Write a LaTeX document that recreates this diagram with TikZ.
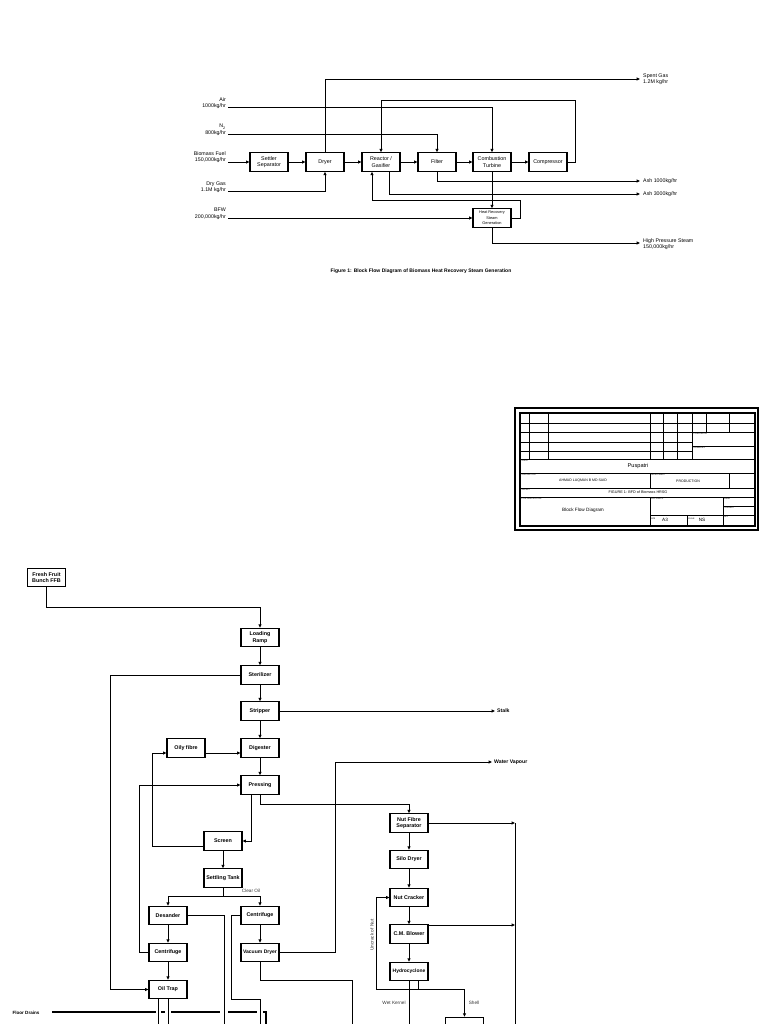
\documentclass[tikz,border=0pt]{standalone}
\usepackage{fontspec}
\setmainfont{Liberation Sans}
\usetikzlibrary{arrows.meta,calc}
\tikzset{
  unit/.style={draw=black, line width=0.95pt, minimum width=1.14cm, minimum height=0.55cm, inner sep=0pt, align=center, font=\fontsize{4.6}{5.3}\selectfont},
  stage/.style={unit, font=\bfseries\fontsize{4.6}{5.4}\selectfont},
  stream/.style={line width=0.8pt},
  feed/.style={stream, -{Triangle[length=2.9pt,width=2.5pt]}},
  drainline/.style={line width=1.5pt},
  tagleft/.style={font=\fontsize{4.5}{5.6}\selectfont, inner sep=0pt, align=right, anchor=east},
  tagright/.style={font=\fontsize{4.5}{5.6}\selectfont, inner sep=0pt, align=left, anchor=west},
  boldtag/.style={font=\bfseries\fontsize{4.4}{5.2}\selectfont, inner sep=0pt, anchor=west},
  note/.style={font=\fontsize{4}{4.8}\selectfont, inner sep=0pt, text=black!80},
  frame/.style={line width=0.9pt},
  rule/.style={line width=0.7pt},
  fieldname/.style={font=\fontsize{1.8}{2.2}\selectfont, inner sep=0.4pt, anchor=north west},
  fieldtext/.style={font=\fontsize{3}{3.6}\selectfont, inner sep=0pt},
}
\begin{document}
\begin{tikzpicture}[x=0.03cm, y=-0.03cm]
\useasboundingbox (0,0) rectangle (768,1024);
\clip (0,0) rectangle (768,1024);
\node[unit] (settler) at (269,162) {Settler\\Separator};
\node[unit] (dryer) at (325,162) {Dryer};
\node[unit] (reactor) at (381,162) {Reactor /\\Gasifier};
\node[unit] (filter) at (437,162) {Filter};
\node[unit] (turbine) at (492,162) {Combustion\\Turbine};
\node[unit] (compressor) at (548,162) {Compressor};
\node[unit, font=\fontsize{3.3}{4.6}\selectfont] (hrsg) at (492,218) {Heat Recovery\\Steam\\Generation};
\node[tagleft] (airtag) at (226,103) {Air\\1000kg/hr};
\node[tagleft] (nitrotag) at (226,130) {N\textsubscript{2}\\800kg/hr};
\node[tagleft] (fueltag) at (226,157) {Biomass Fuel\\150,000kg/hr};
\node[tagleft] (drygastag) at (226,187) {Dry Gas\\1.1M kg/hr};
\node[tagleft] (bfwtag) at (226,214) {BFW\\200,000kg/hr};
\coordinate (air) at (228,107);
\coordinate (nitro) at (228,134);
\coordinate (fuel) at (228,162);
\coordinate (drygas) at (228,191);
\coordinate (bfw) at (228,218);
\coordinate (spent) at (640,79);
\coordinate (ash1) at (640,181);
\coordinate (ash3) at (640,194);
\coordinate (hpsteam) at (640,243);
\node[tagright] (spenttag) at (643,79) {Spent Gas\\1.2M kg/hr};
\node[tagright] (ash1tag) at (643,181) {Ash 1000kg/hr};
\node[tagright] (ash3tag) at (643,194) {Ash 3000kg/hr};
\node[tagright] (steamtag) at (643,244) {High Pressure Steam\\150,000kg/hr};
\draw[feed] (air) -| (turbine.north);
\draw[feed] (nitro) -| (filter.north);
\draw[feed] (fuel) -- (settler);
\draw[feed] (settler) -- (dryer);
\draw[feed] (dryer) -- (reactor);
\draw[feed] (reactor) -- (filter);
\draw[feed] (filter) -- (turbine);
\draw[feed] (turbine) -- (compressor);
\draw[feed] (drygas) -| (dryer.south);
\draw[feed] (bfw) -- (hrsg);
\draw[feed] (dryer.north) |- (spent);
\draw[feed] (compressor.east) -| (575,100) -| (reactor.north);
\draw[feed] (filter.south) |- (ash1);
\draw[feed] ($(reactor.south)+(8,0)$) |- (ash3);
\draw[feed] (hrsg.east) -| (520,200) -| ($(reactor.south)+(-9,0)$);
\draw[feed] (turbine) -- (hrsg);
\draw[feed] (hrsg.south) |- (hpsteam);
\node[font=\bfseries\fontsize{4.3}{5}\selectfont] (caption) at (421,271) {Figure 1: Block Flow Diagram of Biomass Heat Recovery Steam Generation};
\draw[frame] (515,408) rectangle (758,530);
\draw[frame] (520,413) rectangle (755,526);
\foreach \y in {423,432,442,451} \draw[rule] (520,\y) -- (692,\y);
\foreach \x in {529,548,650,663,677,692} \draw[rule] (\x,413) -- (\x,459);
\foreach \y in {423,432,446} \draw[rule] (692,\y) -- (755,\y);
\foreach \x in {706,729} \draw[rule] (\x,413) -- (\x,432);
\foreach \y in {459,473,488,497} \draw[rule] (520,\y) -- (755,\y);
\draw[rule] (650,473) -- (650,488);
\draw[rule] (729,473) -- (729,488);
\draw[rule] (650,497) -- (650,526);
\draw[rule] (723,497) -- (723,526);
\draw[rule] (650,515) -- (723,515);
\draw[rule] (687,515) -- (687,526);
\draw[rule] (723,506) -- (755,506);
\draw[rule] (723,515) -- (755,515);
\node[fieldname] at (693,432) {CHECKED BY};
\node[fieldname] at (693,446) {DRAWN BY};
\node[fieldname] at (520,459) {CLIENT};
\node[fieldname] at (520,473) {CONTRACTOR};
\node[fieldname] at (650,473) {DEPARTMENT};
\node[fieldname] at (520,488) {PROJECT};
\node[fieldname] at (520,497) {TITLE DESCRIPTION};
\node[fieldname] at (650,497) {DOC DWG N°};
\node[fieldname] at (650,517) {SIZE};
\node[fieldname] at (687,517) {SCALE};
\node[fieldname] at (723,497) {SHEET};
\node[fieldname] at (723,506) {CURRENT};
\node[fieldname] at (723,515) {REV};
\node[fieldtext, font=\fontsize{4.8}{5.6}\selectfont] at (638,466) {Puspatri};
\node[fieldtext] at (583,481) {AHMAD LUQMAN B MD SAID};
\node[fieldtext] at (688,481) {PRODUCTION};
\node[fieldtext, font=\fontsize{3.2}{3.8}\selectfont] at (638,492.5) {FIGURE 1: BFD of Biomass HRSG};
\node[fieldtext, font=\fontsize{4}{4.8}\selectfont] at (583,510) {Block Flow Diagram};
\node[fieldtext, font=\fontsize{4}{4.8}\selectfont] at (665,520) {A3};
\node[fieldtext, font=\fontsize{4}{4.8}\selectfont] at (702,520) {NS};
\node[stage] (ffb) at (46.5,577.5) {Fresh Fruit\\Bunch FFB};
\node[stage] (ramp) at (260,637.5) {Loading\\Ramp};
\node[stage] (sterilizer) at (260,675) {Sterilizer};
\node[stage] (stripper) at (260,711) {Stripper};
\node[stage] (oily) at (186,748) {Oily fibre};
\node[stage] (digester) at (260,748) {Digester};
\node[stage] (pressing) at (260,785) {Pressing};
\node[stage] (screen) at (223,841) {Screen};
\node[stage] (settling) at (223,878) {Settling Tank};
\node[stage] (desander) at (168,915.5) {Desander};
\node[stage] (centleft) at (168,952.5) {Centrifuge};
\node[stage] (oiltrap) at (168,989.5) {Oil Trap};
\node[stage] (centright) at (260,915.5) {Centrifuge};
\node[stage, font=\bfseries\fontsize{4.3}{5.2}\selectfont] (vacdryer) at (260,952.5) {Vacuum Dryer};
\node[stage] (nfs) at (409,823) {Nut Fibre\\Separator};
\node[stage] (silo) at (409,859.5) {Silo Dryer};
\node[stage] (cracker) at (409,897.5) {Nut Cracker};
\node[stage] (blower) at (409,934) {C.M. Blower};
\node[stage, font=\bfseries\fontsize{4.2}{5.2}\selectfont] (hydro) at (409,971.5) {Hydrocyclone};
\node[stage] (shellbox) at (464.5,1026.5) {};
\coordinate (stalk) at (495,711);
\coordinate (vapour) at (492,762);
\coordinate (collect) at (515,823);
\coordinate (drain) at (52,1012);
\node[boldtag] (stalktag) at (497,711) {Stalk};
\node[boldtag] (vapourtag) at (494,762) {Water Vapour};
\node[boldtag, anchor=center, font=\bfseries\fontsize{3.9}{4.6}\selectfont] (draintag) at (26,1013) {Floor Drains};
\draw[feed] (ffb.south) -- ++(0,20.5) -| (ramp.north);
\draw[feed] (ramp) -- (sterilizer);
\draw[feed] (sterilizer) -- (stripper);
\draw[feed] (stripper) -- (digester);
\draw[feed] (digester) -- (pressing);
\draw[feed] (stripper) -- (stalk);
\draw[feed] (sterilizer.west) -- ++(-130,0) |- (oiltrap.west);
\draw[feed] ($(oily.east)+(0,5)$) -- ($(digester.west)+(0,5)$);
\draw[feed] ($(pressing.south)+(-9,0)$) |- (screen.east);
\draw[feed] (pressing.south) -- ++(0,10) -| (nfs.north);
\draw[feed] ($(screen.west)+(0,5)$) -- ++(-51,0) |- ($(oily.west)+(0,5)$);
\draw[feed] (screen) -- (settling);
\draw[feed] (settling.south) -- ++(0,9) -| (desander.north);
\draw[feed] (settling.south) -- ++(0,9) -| (centright.north);
\node[note] (clearoil) at (251,891) {Clear Oil};
\draw[feed] (desander) -- (centleft);
\draw[feed] (centleft) -- (oiltrap);
\draw[feed] (centleft.west) -- ++(-9,0) |- (pressing.west);
\draw[stream] (desander.east) -| (224,1030);
\draw[stream] (centright.west) -- ++(-9,0) |- (260,999) -- (260,1030);
\draw[feed] (centright) -- (vacdryer);
\draw[feed] (vacdryer.east) -- ++(56,0) |- (vapour);
\draw[stream] (vacdryer.south) |- (352,980) -- (352,1030);
\draw[stream] ($(oiltrap.south)+(-10,0)$) -- ++(0,40);
\draw[stream] (oiltrap.south) -- ++(0,40);
\draw[drainline] (drain) -- (156,1012);
\draw[drainline] (161,1012) -- (165,1012);
\draw[drainline] (171,1012) -- (220,1012);
\draw[drainline] (228,1012) -- (257,1012);
\draw[drainline] (263,1012) -- (266,1012) -- (266,1030);
\draw[feed] (nfs) -- (silo);
\draw[feed] (silo) -- (cracker);
\draw[feed] (cracker) -- (blower);
\draw[feed] (blower) -- (hydro);
\draw[feed] (nfs.east) -- (collect);
\draw[stream] (collect) -- (515,1030);
\draw[feed] ($(blower.east)+(0,-9)$) -- (515,925);
\draw[stream] (hydro.south) -- (409,1030);
\draw[feed] ($(hydro.south)+(9,0)$) |- (376,989) |- (cracker.west);
\draw[feed] ($(hydro.south)+(9,8)$) -| (shellbox.north);
\node[note, rotate=90] (uncrack) at (372,935) {Uncrack of Nut};
\node[note] (wetkernel) at (394,1003) {Wet Kernel};
\node[note] (shell) at (474,1003) {Shell};
\end{tikzpicture}
\end{document}
